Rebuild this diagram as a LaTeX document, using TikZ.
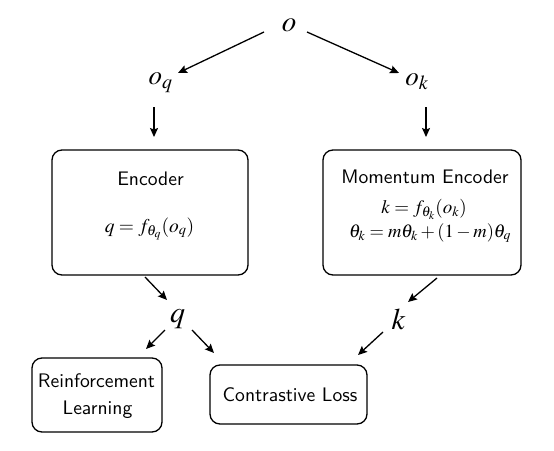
\documentclass[tikz,border=0pt]{standalone}
\usepackage{mathptmx}
\usepackage[no-math]{fontspec}
\newfontfamily\lmsx{lmsans10-regular}[Extension=.otf]
\usetikzlibrary{arrows.meta}
\begin{document}
\begin{tikzpicture}[x=1pt,y=-1pt,
  box/.style={draw, line width=1.3pt, rounded corners=10pt, inner sep=0pt},
  txt/.style={font=\fontsize{19.6}{24}\lmsx, anchor=base, inner sep=0pt},
  eqn/.style={font=\fontsize{19.5}{23}\selectfont, anchor=base, inner sep=0pt},
  mth/.style={anchor=base, inner sep=0pt},
  arr/.style={line width=1.3pt, -{Stealth[length=9pt,width=8pt,inset=1.5pt]}}]
\useasboundingbox (0,0) rectangle (554,450);
% math labels
\node[mth, font=\fontsize{29}{34}\selectfont] (o) at (289,31) {$o$};
\node[mth, font=\fontsize{27}{31}\selectfont] (oq) at (160.5,84) {$o_q$};
\node[mth, font=\fontsize{27}{31}\selectfont] (ok) at (417,85) {$o_k$};
\node[mth, font=\fontsize{30}{34}\selectfont] (q) at (177.5,322) {$q$};
\node[mth, font=\fontsize{30}{34}\selectfont] (k) at (398.5,329) {$k$};
% boxes
\node[box, minimum width=196pt, minimum height=125pt] (enc) at (150,212.5) {};
\node[box, minimum width=198pt, minimum height=125pt] (mom) at (422,212.5) {};
\node[box, minimum width=130pt, minimum height=74pt] (rl) at (97,395) {};
\node[box, minimum width=157pt, minimum height=59pt] (cl) at (288.5,394.5) {};
% box texts
\node[txt] (enc-t) at (150.5,185) {Encoder};
\node[eqn] (enc-e) at (149.5,232) {$q=f_{\theta_q}(o_q)$};
\node[txt] (mom-t) at (425,183) {Momentum Encoder};
\node[eqn, font=\fontsize{19}{23}\selectfont] (mom-e1) at (424,213) {$k=f_{\theta_k}(o_k)$};
\node[eqn, font=\fontsize{18.5}{23}\selectfont] (mom-e2) at (430,237) {$\theta_k=m\theta_k+(1-m)\theta_q$};
\node[txt] (rl-t1) at (96.5,387) {Reinforcement};
\node[txt] (rl-t2) at (97.5,414) {Learning};
\node[txt] (cl-t) at (290,401) {Contrastive Loss};
% arrow end points
\coordinate (o-l) at (264,32);
\coordinate (oq-in) at (178,73);
\coordinate (o-r) at (307,32);
\coordinate (ok-in) at (399,73);
\coordinate (oq-out) at (154,107);
\coordinate (enc-in) at (154,137);
\coordinate (ok-out) at (426,107);
\coordinate (mom-in) at (426,137);
\coordinate (enc-out) at (145,277);
\coordinate (q-in) at (167,300);
\coordinate (mom-out) at (437,278);
\coordinate (k-in) at (408,302);
\coordinate (q-l) at (165,330);
\coordinate (rl-in) at (146,349);
\coordinate (q-r) at (192,330);
\coordinate (cl-inl) at (214,353);
\coordinate (k-out) at (383,332);
\coordinate (cl-inr) at (358,355);
% arrows
\draw[arr] (o-l) -- (oq-in);
\draw[arr] (o-r) -- (ok-in);
\draw[arr] (oq-out) -- (enc-in);
\draw[arr] (ok-out) -- (mom-in);
\draw[arr] (enc-out) -- (q-in);
\draw[arr] (mom-out) -- (k-in);
\draw[arr] (q-l) -- (rl-in);
\draw[arr] (q-r) -- (cl-inl);
\draw[arr] (k-out) -- (cl-inr);
\end{tikzpicture}
\end{document}
